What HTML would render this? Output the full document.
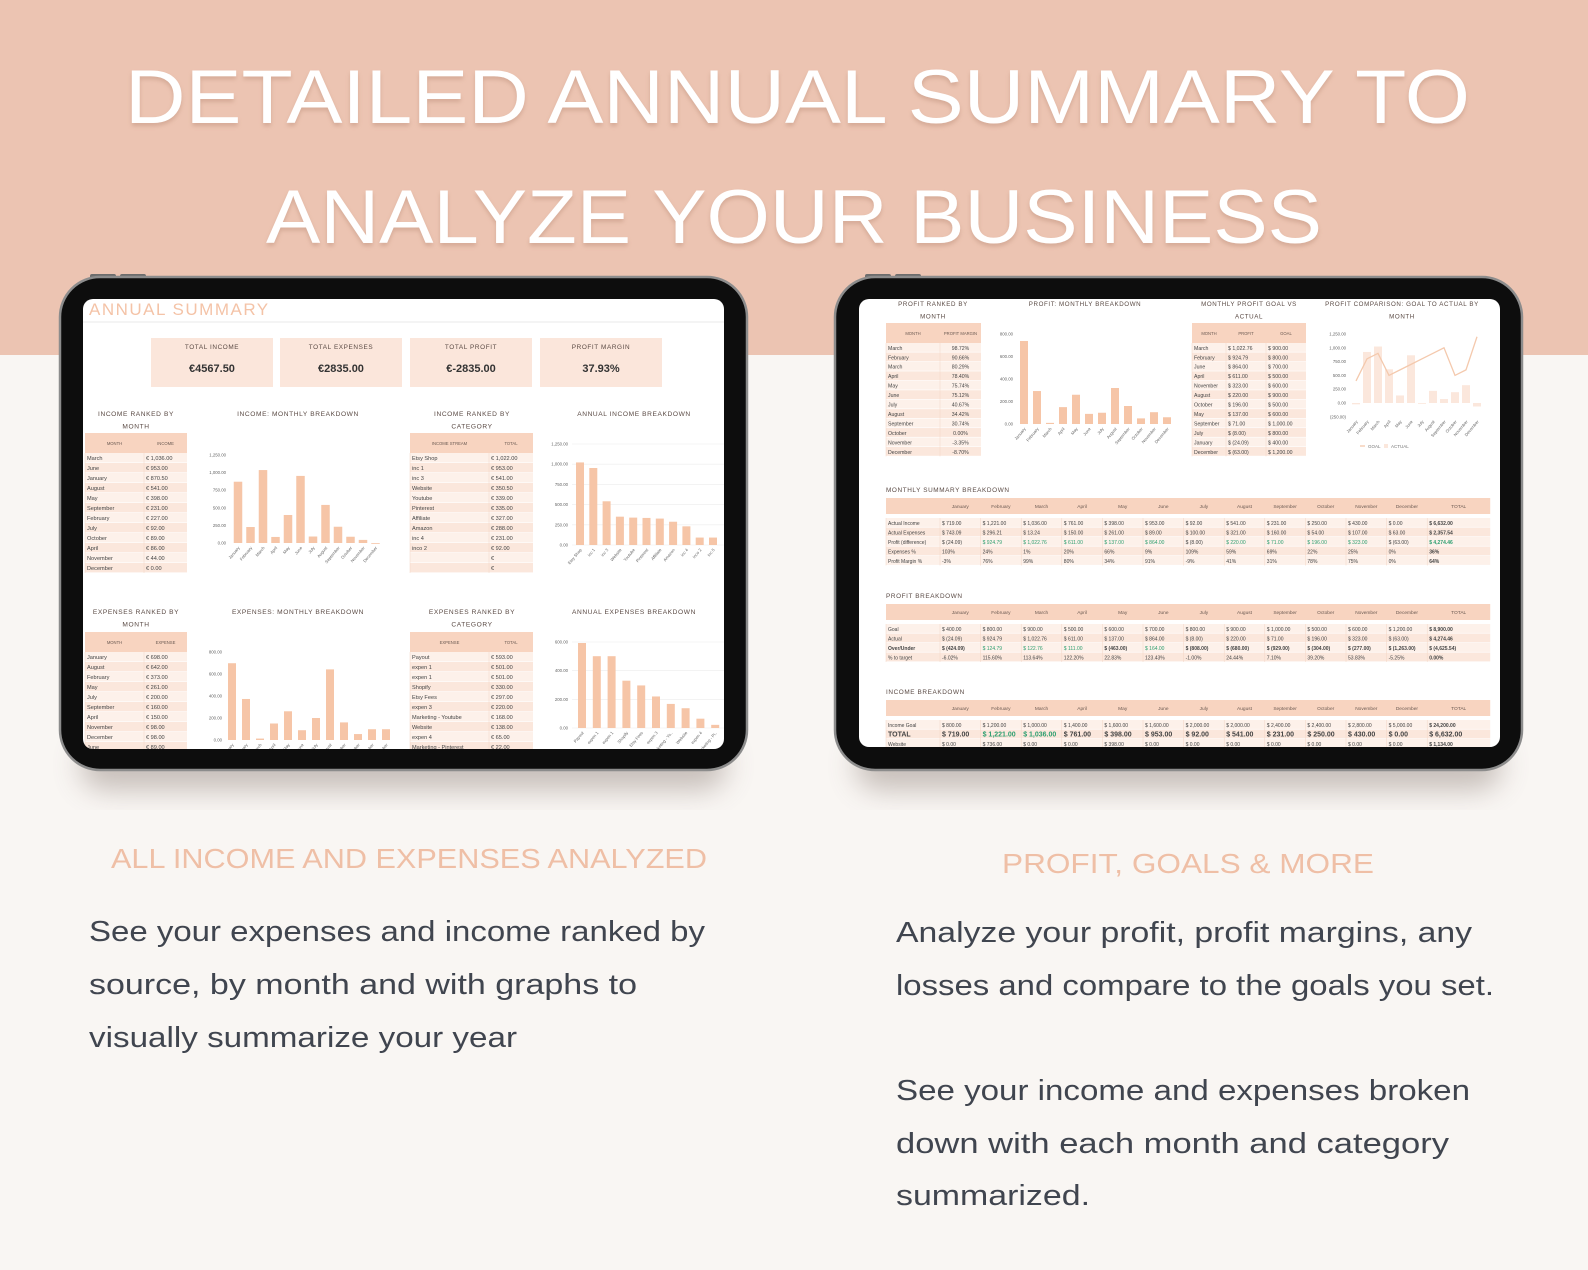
<!DOCTYPE html>
<html><head><meta charset="utf-8">
<style>
html,body{margin:0;padding:0;}
body{width:1588px;height:1270px;overflow:hidden;background:#f9f6f3;font-family:"Liberation Sans",sans-serif;}
svg{display:block}
</style></head>
<body>
<svg id="page" xmlns="http://www.w3.org/2000/svg" width="1588" height="1270" viewBox="0 0 1588 1270">
<defs>
<filter id="tsh" x="-5%" y="-20%" width="110%" height="150%"><feDropShadow dx="0" dy="3" stdDeviation="2" flood-color="#b88a74" flood-opacity="0.45"/></filter>
<filter id="blur" x="-20%" y="-20%" width="140%" height="160%"><feGaussianBlur stdDeviation="14"/></filter>
</defs>
<rect x="0" y="0" width="1588" height="355" fill="#ecc4b2"/>
<rect x="0" y="355" width="1588" height="915" fill="#f9f6f3"/>
<g fill="#ffffff" font-family="Liberation Sans, sans-serif" font-weight="normal" font-size="76" filter="url(#tsh)">
<text x="125" y="123" textLength="1345" lengthAdjust="spacingAndGlyphs">DETAILED ANNUAL SUMMARY TO</text>
<text x="266" y="243" textLength="1056" lengthAdjust="spacingAndGlyphs">ANALYZE YOUR BUSINESS</text>
</g>
<g id="tablets"></g>
<g>
<text x="111" y="868" font-size="28" fill="#efbfa6" textLength="596" lengthAdjust="spacingAndGlyphs">ALL INCOME AND EXPENSES ANALYZED</text>
<g font-size="29" fill="#40454f">
<text x="89" y="941" textLength="616" lengthAdjust="spacingAndGlyphs">See your expenses and income ranked by</text>
<text x="89" y="994" textLength="548" lengthAdjust="spacingAndGlyphs">source, by month and with graphs to</text>
<text x="89" y="1047" textLength="428" lengthAdjust="spacingAndGlyphs">visually summarize your year</text>
</g></g>
<g>
<text x="1002" y="873" font-size="28" fill="#efbfa6" textLength="372" lengthAdjust="spacingAndGlyphs">PROFIT, GOALS &amp; MORE</text>
<g font-size="29" fill="#40454f">
<text x="896" y="942" textLength="576" lengthAdjust="spacingAndGlyphs">Analyze your profit, profit margins, any</text>
<text x="896" y="995" textLength="598" lengthAdjust="spacingAndGlyphs">losses and compare to the goals you set.</text>
<text x="896" y="1100" textLength="574" lengthAdjust="spacingAndGlyphs">See your income and expenses broken</text>
<text x="896" y="1153" textLength="553" lengthAdjust="spacingAndGlyphs">down with each month and category</text>
<text x="896" y="1205" textLength="194" lengthAdjust="spacingAndGlyphs">summarized.</text>
</g></g>
</svg>
<script>
// ---- chart data ----
const months = ["January","February","March","April","May","June","July","August","September","October","November","December"];
const incomeMonthly = [870.5,227,1036,86,398,953,92,541,231,89,44,0];
const incomeCats = ["Etsy Shop","inc 1","inc 3","Website","Youtube","Pinterest","Affiliate","Amazon","inc 4","inco 2","inc 5"];
const incomeCatVals = [1022,953,541,350.5,339,335,327,288,231,92,92];
const expenseMonthly = [698,373,13,150,261,89,200,642,160,54,98,98];
const expenseCats = ["Payout","expen 1","expen 1","Shopify","Etsy Fees","expen 3","Marketing - Yo..","Website","expen 4","Marketing - Pi.."];
const expenseCatVals = [593,501,501,330,297,220,168,138,65,22];
const profitMonthly = [738,293,10,150,260,90,100,320,160,50,105,60];
const goalVals = [400,800,900,500,600,700,800,900,1000,500,600,1200];
const actualVals = [-24.09,924.79,1022.76,611,137,864,-8,220,71,196,323,-63];
const incTicks = ["0.00","250.00","500.00","750.00","1,000.00","1,250.00"];
const expTicks = ["0.00","200.00","400.00","600.00","800.00"];
const annExpTicks = ["0.00","200.00","400.00","600.00"];
const cmpTicks = ["(250.00)","0.00","250.00","500.00","750.00","1,000.00","1,250.00"];

const NS="http://www.w3.org/2000/svg";
const root=document.getElementById('tablets');
function mk(tag,a,p){const e=document.createElementNS(NS,tag);for(const k in a)e.setAttribute(k,a[k]);(p||root).appendChild(e);return e;}
function tx(x,y,s,size,fill,p,anchor,weight){const t=mk('text',{x:x,y:y,'font-size':size,fill:fill||'#444','text-anchor':anchor||'start','font-weight':weight||'normal'},p);t.textContent=s;return t;}
const BAR="#f6c5a7", HEAD="#f8d4c0", R1="#fdf1ea", R2="#fbe7dc", GRN="#2e9f70";
function fmt(v){const n=Math.abs(v).toFixed(2).replace(/\B(?=(\d{3})+(?!\d))/g,',');return v<0?'('+n+')':n;}

function tablet(x,y,w,h,sx,sy,sw,sh,name){
  const g=mk('g',{});
  
  
  const sh1=mk('rect',{x:x+20,y:y+h-30,width:w-40,height:50,rx:25,fill:'#8a7b74',opacity:0.45,filter:'url(#blur)'},g);
  
  
  mk('rect',{x:x+30,y:y-3,width:26,height:5,rx:2,fill:'#6d6d6d'},g);
  mk('rect',{x:x+60,y:y-3,width:26,height:5,rx:2,fill:'#6d6d6d'},g);
  const body=mk('rect',{x:x,y:y,width:w,height:h,rx:40,fill:'#0d0d0d',stroke:'#8c8c8c','stroke-width':2.5},g);
  
  
  const scr=mk('rect',{x:sx,y:sy,width:sw,height:sh,rx:10,fill:'#ffffff'},g);
  
  
  const cid='clip'+name;
  const cp=mk('clipPath',{id:cid},g);mk('rect',{x:sx,y:sy,width:sw,height:sh,rx:10},cp);
  const c=mk('g',{'clip-path':'url(#'+cid+')','font-family':'Liberation Sans, sans-serif'},g);
  return c;
}

function table(p,x,y,cols,headH,rowH,headers,rows,name,opts){
  opts=opts||{};
  const g=mk('g',{},p);
  
  
  const W=cols.reduce((a,b)=>a+b,0);
  mk('rect',{x:x,y:y,width:W,height:headH,fill:HEAD},g);
  let cx=x;
  headers.forEach((hd,i)=>{tx(cx+cols[i]/2,y+headH/2+2,hd,opts.hsize||4.2,'#6b5a52',g,'middle');cx+=cols[i];});
  rows.forEach((r,ri)=>{
    const ry=y+headH+ri*rowH+(opts.gap||0);
    const rh=(opts.rowHs&&opts.rowHs[ri])||rowH;
    mk('rect',{x:x,y:ry,width:W,height:rh-0.6,fill:ri%2?R2:R1},g);
    let cx2=x;
    r.forEach((cell,ci)=>{
      let s=cell,col='#444',w='normal';
      if(typeof cell==='object'){s=cell.t;col=cell.c||col;w=cell.b?'bold':'normal';}
      const al=(opts.align&&opts.align[ci])||'start';
      const xx=al==='middle'?cx2+cols[ci]/2:al==='end'?cx2+cols[ci]-2:cx2+2;
      tx(xx,ry+rh*0.72,s,(opts.fsizes&&opts.fsizes[ri])||opts.size||5.6,col,g,al,w);
      mk('line',{x1:cx2,y1:ry,x2:cx2,y2:ry+rh,stroke:'#f3d6c6','stroke-width':0.5},g);
      cx2+=cols[ci];
    });
  });
  return g;
}

function barChart(p,cfg){
  const g=mk('g',{},p);
  
  
  const yOf=v=>cfg.zeroY-(v-0)*(cfg.zeroY-cfg.topY)/cfg.max;
  cfg.ticks.forEach((t,i)=>{
    const v=cfg.tickVals[i];const yy=yOf(v);
    if(cfg.grid)mk('line',{x1:cfg.axisX+4,y1:yy,x2:cfg.gridX2,y2:yy,stroke:'#ececec','stroke-width':0.6},g);
    const tl=tx(cfg.axisX,yy+1.5,t,4.3,'#666',g,'end');
    
    
  });
  cfg.values.forEach((v,i)=>{
    const cx=cfg.x0+i*cfg.step;const y0=yOf(0),y1=yOf(v);
    const b=mk('rect',{x:cx-cfg.bw/2,y:Math.min(y0,y1),width:cfg.bw,height:Math.max(0.8,Math.abs(y0-y1)),fill:cfg.fill||BAR},g);
    
    
    const l=tx(0,0,cfg.labels[i],4.2,'#666',g,'end');
    l.setAttribute('transform','translate('+(cx+2)+','+(cfg.zeroY+(cfg.labOff||5))+') rotate(-50)');
    
    
  });
  return {g:g,yOf:yOf};
}
function hdr(p,x,y,lines,size){lines.forEach((s,i)=>{const t=tx(x,y+i*12.5,s,size||6.6,'#5a4a44',p,'middle');t.setAttribute('letter-spacing','0.6');});}

// ================= LEFT TABLET =================
const L=tablet(60,277,687,493,83,299,641,450,'left-tablet');
const at=tx(89,315,'ANNUAL SUMMARY',17,'#f4c3a7',L);
at.setAttribute('letter-spacing','1.5');


mk('line',{x1:83,y1:322,x2:724,y2:322,stroke:'#f1f1f1','stroke-width':1.5},L);
const kpis=[["TOTAL INCOME","€4567.50"],["TOTAL EXPENSES","€2835.00"],["TOTAL PROFIT","€-2835.00"],["PROFIT MARGIN","37.93%"]];
[151,280,410,540].forEach((kx,i)=>{
  const kg=mk('g',{},L);
  
  
  mk('rect',{x:kx,y:338,width:122,height:49,fill:'#fbe6db'},kg);
  const a=tx(kx+61,349,kpis[i][0],6.4,'#5a4a44',kg,'middle');a.setAttribute('letter-spacing','0.6');
  tx(kx+61,372,kpis[i][1],11,'#333',kg,'middle','bold');
});
hdr(L,136,416,["INCOME RANKED BY","MONTH"]);
hdr(L,298,416,["INCOME: MONTHLY BREAKDOWN"]);
hdr(L,472,416,["INCOME RANKED BY","CATEGORY"]);
hdr(L,634,416,["ANNUAL INCOME BREAKDOWN"]);
const incRankM=["March","June","January","August","May","September","February","July","October","April","November","December"];
const incRankV=[1036,953,870.5,541,398,231,227,92,89,86,44,0];
table(L,85,433,[59,43],20,10,["MONTH","INCOME"],incRankM.map((m,i)=>[m,'€ '+fmt(incRankV[i])]),'income-by-month-table');
const catRows=incomeCats.slice(0,10).map((c,i)=>[c,'€ '+fmt(incomeCatVals[i])]);catRows.push(['','€']);catRows.push(['','€']);
table(L,410,433,[79,44],20,10,["INCOME STREAM","TOTAL"],catRows,'income-by-category-table');
barChart(L,{name:'income-monthly-chart',axisX:226,topY:455,zeroY:543,max:1250,ticks:incTicks,tickVals:[0,250,500,750,1000,1250],values:incomeMonthly,labels:months,x0:238,step:12.5,bw:8.5});
barChart(L,{name:'annual-income-chart',axisX:568,topY:444,zeroY:545,max:1250,ticks:incTicks,tickVals:[0,250,500,750,1000,1250],values:incomeCatVals,labels:incomeCats,x0:580,step:13.3,bw:8,grid:true,gridX2:724});
hdr(L,136,614,["EXPENSES RANKED BY","MONTH"]);
hdr(L,298,614,["EXPENSES: MONTHLY BREAKDOWN"]);
hdr(L,472,614,["EXPENSES RANKED BY","CATEGORY"]);
hdr(L,634,614,["ANNUAL EXPENSES BREAKDOWN"]);
const expRankM=["January","August","February","May","July","September","April","November","December","June"];
const expRankV=[698,642,373,261,200,160,150,98,98,89];
table(L,85,632,[59,43],20,10,["MONTH","EXPENSE"],expRankM.map((m,i)=>[m,'€ '+fmt(expRankV[i])]),'expenses-by-month-table');
table(L,410,632,[79,44],20,10,["EXPENSE","TOTAL"],expenseCats.map((c,i)=>[c.replace('Yo..','Youtube').replace('Pi..','Pinterest'),'€ '+fmt(expenseCatVals[i])]),'expenses-by-category-table');
barChart(L,{name:'expenses-monthly-chart',axisX:222,topY:652,zeroY:740,max:800,ticks:expTicks,tickVals:[0,200,400,600,800],values:expenseMonthly,labels:months,x0:232,step:14,bw:8});
barChart(L,{name:'annual-expenses-chart',axisX:568,topY:642,zeroY:728,max:600,ticks:annExpTicks,tickVals:[0,200,400,600],values:expenseCatVals,labels:expenseCats,x0:582,step:14.8,bw:8,grid:true,gridX2:724});

// ================= RIGHT TABLET =================
const R=tablet(835,277,687,493,859,299,641,448,'right-tablet');
hdr(R,933,306,["PROFIT RANKED BY","MONTH"],6.2);
hdr(R,1085,306,["PROFIT: MONTHLY BREAKDOWN"],6.2);
hdr(R,1249,306,["MONTHLY PROFIT GOAL VS","ACTUAL"],6.2);
hdr(R,1402,306,["PROFIT COMPARISON: GOAL TO ACTUAL BY","MONTH"],6.2);
const prM=["March","February","March","April","May","June","July","August","September","October","November","December"];
const prV=["98.72%","90.66%","80.29%","78.40%","75.74%","75.12%","40.67%","34.42%","30.74%","0.00%","-3.35%","-8.70%"];
table(R,886,323,[54,41],20,9.45,["MONTH","PROFIT MARGIN"],prM.map((m,i)=>[m,prV[i]]),'profit-ranked-table',{size:5.2,align:['start','middle']});
barChart(R,{name:'profit-monthly-chart',axisX:1013,topY:334,zeroY:424,max:800,ticks:expTicks,tickVals:[0,200,400,600,800],values:profitMonthly,labels:months,x0:1024,step:13,bw:8});
const gM=["March","February","June","April","November","August","October","May","September","July","January","December"];
const gP=[1022.76,924.79,864,611,323,220,196,137,71,-8,-24.09,-63];
const gG=[900,800,700,500,600,900,500,600,1000,800,400,1200];
table(R,1192,323,[34,40,40],20,9.45,["MONTH","PROFIT","GOAL"],gM.map((m,i)=>[m,'$ '+fmt(gP[i]),'$ '+fmt(gG[i])]),'profit-goal-table',{size:5.2});
(function(){
  const g=mk('g',{},R);
  
  
  const zero=403,pp=69/1250;const yOf=v=>zero-v*pp;
  cmpTicks.forEach((t,i)=>{const v=-250+i*250;const l=tx(1346,yOf(v)+1.5,t,4.3,'#666',g,'end');});
  actualVals.forEach((v,i)=>{const cx=1356+i*11;
    const b=mk('rect',{x:cx-4,y:Math.min(yOf(0),yOf(v)),width:8,height:Math.max(0.8,Math.abs(v*pp)),fill:'#fbe7dc'},g);
    
    
    const l=tx(0,0,months[i],4.2,'#666',g,'end');l.setAttribute('transform','translate('+(cx+2)+','+(yOf(-250)+5)+') rotate(-50)');
    
    });
  const pts=goalVals.map((v,i)=>(1356+i*11)+','+yOf(v)).join(' ');
  const pl=mk('polyline',{points:pts,fill:'none',stroke:'#f4c9ad','stroke-width':1.3},g);
  
  
  const lg=mk('g',{},g);
  
  
  mk('line',{x1:1360,y1:446,x2:1365,y2:446,stroke:'#f4c9ad','stroke-width':1.3},lg);tx(1368,448,'GOAL',4.5,'#777',lg);
  mk('rect',{x:1384,y:444,width:4,height:4,fill:'#fbe7dc'},lg);tx(1391,448,'ACTUAL',4.5,'#777',lg);
})();
function wideTable(y,title,labels,rows,name,opts){
  const t=tx(886,y-6,title,6.4,'#5a4a44',R);t.setAttribute('letter-spacing','0.6');
  
  
  const cols=[54].concat(Array(12).fill(40.6)).concat([63]);
  const data=labels.map((lab,ri)=>[lab].concat(rows[ri]));
  table(R,886,y,cols,16,9.5,[''].concat(months).concat(['TOTAL']),data,name,Object.assign({size:5,hsize:4.8,gap:4},opts||{}));
}
const G=(s)=>({t:s,c:GRN});
wideTable(498,'MONTHLY SUMMARY BREAKDOWN',["Actual Income","Actual Expenses","Profit (difference)","Expenses %","Profit Margin %"],[
 ["$ 719.00","$ 1,221.00","$ 1,036.00","$ 761.00","$ 398.00","$ 953.00","$ 92.00","$ 541.00","$ 231.00","$ 250.00","$ 430.00","$ 0.00",{t:"$ 6,632.00",b:1}],
 ["$ 743.09","$ 296.21","$ 13.24","$ 150.00","$ 261.00","$ 89.00","$ 100.00","$ 321.00","$ 160.00","$ 54.00","$ 107.00","$ 63.00",{t:"$ 2,357.54",b:1}],
 ["$ (24.09)",G("$ 924.79"),G("$ 1,022.76"),G("$ 611.00"),G("$ 137.00"),G("$ 864.00"),"$ (8.00)",G("$ 220.00"),G("$ 71.00"),G("$ 196.00"),G("$ 323.00"),"$ (63.00)",{t:"$ 4,274.46",c:GRN,b:1}],
 ["103%","24%","1%","20%","66%","9%","109%","59%","69%","22%","25%","0%",{t:"36%",b:1}],
 ["-3%","76%","99%","80%","34%","91%","-9%","41%","31%","78%","75%","0%",{t:"64%",b:1}]
],'monthly-summary-table');
wideTable(604,'PROFIT BREAKDOWN',["Goal","Actual",{t:"Over/Under",b:1},"% to target"],[
 ["$ 400.00","$ 800.00","$ 900.00","$ 500.00","$ 600.00","$ 700.00","$ 800.00","$ 900.00","$ 1,000.00","$ 500.00","$ 600.00","$ 1,200.00",{t:"$ 8,900.00",b:1}],
 ["$ (24.09)","$ 924.79","$ 1,022.76","$ 611.00","$ 137.00","$ 864.00","$ (8.00)","$ 220.00","$ 71.00","$ 196.00","$ 323.00","$ (63.00)",{t:"$ 4,274.46",b:1}],
 [{t:"$ (424.09)",b:1},G("$ 124.79"),G("$ 122.76"),G("$ 111.00"),{t:"$ (463.00)",b:1},G("$ 164.00"),{t:"$ (808.00)",b:1},{t:"$ (680.00)",b:1},{t:"$ (929.00)",b:1},{t:"$ (304.00)",b:1},{t:"$ (277.00)",b:1},{t:"$ (1,263.00)",b:1},{t:"$ (4,625.54)",b:1}],
 ["-6.02%","115.60%","113.64%","122.20%","22.83%","123.43%","-1.00%","24.44%","7.10%","39.20%","53.83%","-5.25%",{t:"0.00%",b:1}]
],'profit-breakdown-table');
wideTable(700,'INCOME BREAKDOWN',["Income Goal",{t:"TOTAL",b:1},"Website"],[
 ["$ 800.00","$ 1,200.00","$ 1,000.00","$ 1,400.00","$ 1,600.00","$ 1,600.00","$ 2,000.00","$ 2,000.00","$ 2,400.00","$ 2,400.00","$ 2,800.00","$ 5,000.00",{t:"$ 24,200.00",b:1}],
 [{t:"$ 719.00",b:1},{t:"$ 1,221.00",c:GRN,b:1},{t:"$ 1,036.00",c:GRN,b:1},{t:"$ 761.00",b:1},{t:"$ 398.00",b:1},{t:"$ 953.00",b:1},{t:"$ 92.00",b:1},{t:"$ 541.00",b:1},{t:"$ 231.00",b:1},{t:"$ 250.00",b:1},{t:"$ 430.00",b:1},{t:"$ 0.00",b:1},{t:"$ 6,632.00",b:1}],
 ["$ 0.00","$ 736.00","$ 0.00","$ 0.00","$ 398.00","$ 0.00","$ 0.00","$ 0.00","$ 0.00","$ 0.00","$ 0.00","$ 0.00",{t:"$ 1,134.00",b:1}]
],'income-breakdown-table',{fsizes:[5,7,5]});
</script>
</body></html>
